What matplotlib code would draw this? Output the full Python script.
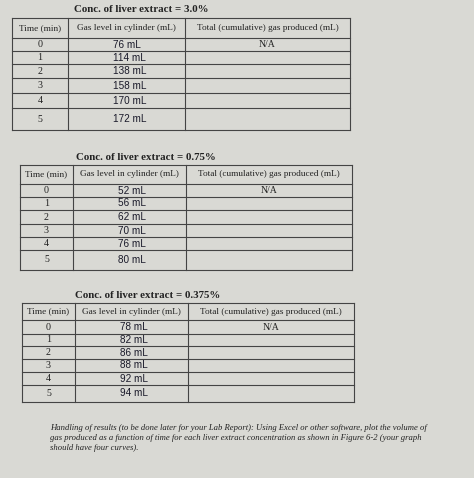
import matplotlib
matplotlib.use("Agg")
import matplotlib.pyplot as plt

times = ["0", "1", "2", "3", "4", "5"]
gas_30 = [76, 114, 138, 158, 170, 172]
gas_075 = [52, 56, 62, 70, 76, 80]
gas_0375 = [78, 82, 86, 88, 92, 94]
titles = ["Conc. of liver extract = 3.0%", "Conc. of liver extract = 0.75%", "Conc. of liver extract = 0.375%"]
headers = ["Time (min)", "Gas level in cylinder (mL)", "Total (cumulative) gas produced (mL)"]

fig = plt.figure(figsize=(4.74, 4.78), dpi=100)
fig.patch.set_facecolor("#d9d9d4")
ax = fig.add_axes([0, 0, 1, 1])
ax.set_xlim(0, 474); ax.set_ylim(478, 0); ax.axis("off")
ax.set_facecolor("#d9d9d4")

layouts = [
    dict(title_y=9, cols=[12, 68, 185, 350], rows=[18, 38, 51, 64, 78, 93, 108, 130], data=gas_30),
    dict(title_y=157, cols=[20, 73, 186, 352], rows=[165, 184, 197, 210, 224, 237, 250, 270], data=gas_075),
    dict(title_y=296, cols=[22, 75, 188, 354], rows=[303, 320, 334, 346, 359, 372, 385, 402], data=gas_0375),
]
serif = "Liberation Serif"
for L, t in zip(layouts, titles):
    c, r = L["cols"], L["rows"]
    ax.text((c[0] + c[-1]) / 2 - 40, L["title_y"], t, ha="center", va="center", fontsize=7.8, fontweight="bold", family=serif, color="#222")
    for x in c:
        ax.plot([x, x], [r[0], r[-1]], color="#444", lw=0.8)
    for y in r:
        ax.plot([c[0], c[-1]], [y, y], color="#444", lw=0.8)
    for j, h in enumerate(headers):
        ax.text((c[j] + c[j + 1]) / 2, (r[0] + r[1]) / 2, h, ha="center", va="center", fontsize=6.7, family=serif, color="#222")
    for i, (tm, v) in enumerate(zip(times, L["data"])):
        yc = (r[i + 1] + r[i + 2]) / 2
        ax.text((c[0] + c[1]) / 2, yc, tm, ha="center", va="center", fontsize=7.2, family=serif, color="#222")
        ax.text(c[1] + 45, yc, f"{v} mL", ha="left", va="center", fontsize=7.2, family="Liberation Sans", color="#1a1a2a")
    ax.text((c[2] + c[3]) / 2, (r[1] + r[2]) / 2, "N/A", ha="center", va="center", fontsize=7, family=serif, color="#222")

ax.text(50, 438, "Handling of results (to be done later for your Lab Report): Using Excel or other software, plot the volume of\n"
        "gas produced as a function of time for each liver extract concentration as shown in Figure 6-2 (your graph\n"
        "should have four curves).", ha="left", va="center", fontsize=6.2, style="italic", family=serif, color="#222", linespacing=1.3)

fig.savefig("out.png", dpi=100, facecolor=fig.get_facecolor())
